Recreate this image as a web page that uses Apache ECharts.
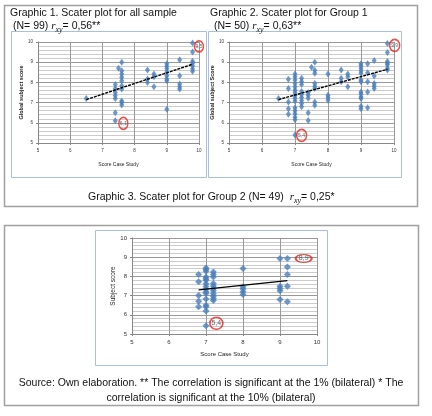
<!DOCTYPE html>
<html>
<head>
<meta charset="utf-8">
<script src="https://cdn.jsdelivr.net/npm/echarts@6/dist/echarts.min.js"></script>
<style>
html, body { margin: 0; padding: 0; background: #fff; }
#main { width: 432px; height: 416px; }
</style>
</head>
<body>
<div id="main"></div>
<script>
// axis ticks (same for both axes in all three plots)
var xTicks = [5, 6, 7, 8, 9, 10];
var yTicks = [5, 6, 7, 8, 9, 10];

// Graphic 1 - all sample
var g1X = [6.5,
    7.4, 7.4, 7.4, 7.4, 7.4, 7.4, 7.4,
    7.5,
    7.6, 7.6, 7.6, 7.6, 7.6, 7.6, 7.6, 7.6, 7.6, 7.6,
    8.4, 8.4, 8.4,
    8.6, 8.6, 8.6,
    9.0, 9.0, 9.0, 9.0, 9.0, 9.0, 9.0, 9.0,
    9.4, 9.4, 9.4, 9.4, 9.4,
    9.8, 9.8, 9.8, 9.8, 9.8, 9.8, 9.8];
var g1Y = [7.2,
    7.9, 7.7, 7.5, 7.35, 7.2, 6.5, 6.1,
    8.7,
    9.0, 8.58, 8.42, 8.25, 8.08, 7.83, 7.67, 7.08, 7.0, 6.88,
    8.62, 8.17, 8.0,
    8.42, 8.28, 7.78,
    8.92, 8.8, 8.67, 8.5, 8.33, 8.17, 8.08, 6.67,
    9.12, 8.33, 7.92, 7.78, 7.67,
    9.95, 9.5, 9.05, 8.95, 8.83, 8.67, 8.55];
var g1TrendX = [6.5, 9.8];
var g1TrendY = [7.15, 8.9];
var g1NoteText = ['9,5', '6,1'];
var g1NoteX = [10.0, 7.65];
var g1NoteY = [9.78, 5.97];

// Graphic 2 - group 1
var g2X = [6.5,
    6.8, 6.8, 6.8, 6.8, 6.8,
    7.0, 7.0, 7.0, 7.0, 7.0, 7.0, 7.0, 7.0, 7.0, 7.0, 7.0, 7.0, 7.0, 7.0, 7.0, 7.0,
    7.2, 7.2, 7.2, 7.2, 7.2, 7.2, 7.2, 7.2, 7.2,
    7.4, 7.4, 7.4, 7.4, 7.4,
    7.5,
    7.6, 7.6, 7.6, 7.6, 7.6, 7.6, 7.6, 7.6,
    8.0, 8.0, 8.0, 8.0,
    8.4, 8.4, 8.4,
    8.6, 8.6, 8.6,
    9.0, 9.0, 9.0, 9.0, 9.0, 9.0, 9.0, 9.0, 9.0, 9.0, 9.0, 9.0, 9.0,
    9.2, 9.2, 9.2, 9.2, 9.2,
    9.4, 9.4, 9.4, 9.4, 9.4,
    9.8, 9.8, 9.8, 9.8, 9.8, 9.8, 9.8];
var g2Y = [7.2,
    8.15, 7.7, 7.03, 6.7, 6.42,
    8.42, 8.28, 8.12, 7.95, 7.78, 7.62, 7.5, 7.35, 7.22, 7.08, 6.75, 6.6, 6.45, 6.28, 6.15, 5.4,
    8.2, 8.05, 7.9, 7.55, 7.4, 7.25, 7.1, 6.95, 6.8,
    7.5, 7.37, 7.22, 6.5, 6.12,
    8.75,
    9.0, 8.6, 8.45, 7.95, 7.8, 7.7, 7.03, 6.87,
    8.42, 7.37, 7.25, 7.12,
    8.62, 8.2, 8.03,
    8.42, 8.28, 7.78,
    8.92, 8.82, 8.7, 8.58, 8.45, 8.12, 8.03, 7.53, 7.42, 7.28, 7.2, 6.82, 6.7,
    8.92, 8.48, 8.03, 7.53, 6.75,
    9.08, 8.32, 7.95, 7.82, 7.7,
    9.92, 9.48, 9.03, 8.95, 8.87, 8.7, 8.62];
var g2TrendX = [6.5, 9.8];
var g2TrendY = [7.15, 8.65];
var g2NoteText = ['9,9', '5,4'];
var g2NoteX = [10.02, 7.2];
var g2NoteY = [9.83, 5.38];

// Graphic 3 - group 2
var g3X = [6.8, 6.8, 6.8, 6.8, 6.8,
    7.0, 7.0, 7.0, 7.0, 7.0, 7.0, 7.0, 7.0, 7.0, 7.0, 7.0, 7.0, 7.0, 7.0, 7.0, 7.0,
    7.2, 7.2, 7.2, 7.2, 7.2, 7.2, 7.2, 7.2, 7.2, 7.2, 7.2,
    8.0, 8.0, 8.0, 8.0, 8.0,
    9.0, 9.0, 9.0, 9.0, 9.0,
    9.2, 9.2, 9.2, 9.2, 9.2];
var g3Y = [8.1, 7.72, 7.0, 6.71, 6.42,
    8.44, 8.36, 8.27, 7.97, 7.88, 7.8, 7.62, 7.48, 7.33, 7.2, 7.11, 6.82, 6.5, 6.42, 6.2, 5.43,
    8.23, 8.1, 7.97, 7.63, 7.5, 7.37, 7.25, 7.1, 6.97, 6.85, 6.75,
    8.41, 7.46, 7.34, 7.2, 7.06,
    8.93, 7.49, 7.37, 7.25, 6.8,
    8.93, 8.49, 8.1, 7.49, 6.68];
var g3TrendX = [6.8, 9.2];
var g3TrendY = [7.3, 7.78];
var g3NoteText = ['8,9', '5,4'];
var g3NoteX = [9.64, 7.28];
var g3NoteY = [8.93, 5.56];

function pairs(xs, ys) {
    return xs.map(function(x, i) { return [x, ys[i]]; });
}

var blue = '#4A7EBB';
var font = 'Liberation Sans';

function xAxisFor(g, small) {
    return {
        type: 'value', gridIndex: g,
        min: xTicks[0], max: xTicks[xTicks.length - 1], interval: 1,
        name: 'Score Case Study', nameLocation: 'middle',
        nameGap: small ? 19 : 17,
        nameTextStyle: { fontSize: small ? 5 : 6, color: '#222', fontFamily: font },
        axisLine: { show: true, lineStyle: { color: '#888', width: 1 } },
        axisTick: { show: true, length: 2, lineStyle: { color: '#888' } },
        axisLabel: { fontSize: small ? 4.5 : 6, color: '#333', margin: 5, fontFamily: font },
        splitLine: { show: true, lineStyle: { color: '#999', width: 1 } }
    };
}

function yAxisFor(g, small, name) {
    return {
        type: 'value', gridIndex: g,
        min: yTicks[0], max: yTicks[yTicks.length - 1], interval: 1,
        name: name, nameLocation: 'middle',
        nameGap: small ? 11 : 15,
        nameTextStyle: { fontSize: small ? 5.5 : 6.5, color: '#222', fontFamily: font,
            fontWeight: small ? 'bold' : 'normal' },
        axisLine: { show: true, lineStyle: { color: '#888', width: 1 } },
        axisTick: { show: true, length: 2, lineStyle: { color: '#888' } },
        minorTick: { show: false, splitNumber: 5 },
        axisLabel: { fontSize: small ? 4.5 : 6, color: '#333', margin: 5, fontFamily: font },
        splitLine: { show: true, lineStyle: { color: '#999', width: 1 } },
        minorSplitLine: { show: true, lineStyle: { color: '#cccccc', width: 1 } }
    };
}

function dots(g, xs, ys, size) {
    return {
        type: 'scatter', xAxisIndex: g, yAxisIndex: g,
        symbol: 'diamond', symbolSize: size,
        itemStyle: { color: blue },
        data: pairs(xs, ys), z: 3
    };
}

function trend(g, xs, ys, dashed) {
    return {
        type: 'line', xAxisIndex: g, yAxisIndex: g,
        symbol: 'none', silent: true,
        lineStyle: { color: '#000', width: dashed ? 1.4 : 1.2, type: dashed ? [3, 1] : 'solid' },
        data: pairs(xs, ys), z: 4
    };
}

function notes(g, texts, xs, ys, sizes, fs) {
    return {
        type: 'scatter', xAxisIndex: g, yAxisIndex: g, clip: false,
        symbol: 'circle',
        itemStyle: { color: 'rgba(255,255,255,0)', borderColor: '#e5231b', borderWidth: 1.6 },
        label: { show: true, position: 'inside', formatter: '{b}', fontSize: fs,
            color: '#444', fontFamily: font },
        data: texts.map(function(t, i) {
            return { name: t, value: [xs[i], ys[i]], symbolSize: sizes[i] };
        }),
        z: 5
    };
}

var rxy = {
    r: { fontStyle: 'italic', fontFamily: 'Liberation Serif', fontSize: 11 },
    s: { fontStyle: 'italic', fontFamily: 'Liberation Serif', fontSize: 8, padding: [7, 0, 0, 0] }
};

function text(x, y, str, align) {
    return {
        type: 'text', x: x, y: y, z: 10,
        style: {
            text: str, rich: rxy, fill: '#111',
            font: '10.5px "Liberation Sans"', align: align || 'left', verticalAlign: 'middle'
        }
    };
}

function box(x, y, w, h, color, lw) {
    return {
        type: 'rect', shape: { x: x, y: y, width: w, height: h }, z: -1,
        style: { fill: 'none', stroke: color, lineWidth: lw }
    };
}

var chart = echarts.init(document.getElementById('main'));

var option = {
    backgroundColor: '#fff',
    animation: false,
    grid: [
        { left: 38, top: 42, width: 161, height: 101 },
        { left: 229, top: 42, width: 165, height: 101 },
        { left: 132, top: 238, width: 185, height: 96 }
    ],
    xAxis: [xAxisFor(0, true), xAxisFor(1, true), xAxisFor(2, false)],
    yAxis: [
        yAxisFor(0, true, 'Global subject score'),
        yAxisFor(1, true, 'Global subject Score'),
        yAxisFor(2, false, 'Subject score')
    ],
    graphic: [
        box(4.5, 5.5, 413, 201, '#a0a0a0', 1.5),
        box(11.5, 31.5, 195, 146, '#a9c0dc', 1),
        box(208.5, 31.5, 193, 146, '#a9c0dc', 1),
        box(4.5, 225.5, 414, 180, '#a0a0a0', 1.5),
        box(95.5, 230.5, 232, 135, '#a9c0dc', 1),
        text(10, 13, 'Graphic 1. Scater plot for all sample'),
        text(13, 26, '(N= 99) {r|r}{s|xy}= 0,56**'),
        text(210, 13, 'Graphic 2. Scater plot for Group 1'),
        text(214, 26, '(N= 50) {r|r}{s|xy}= 0,63**'),
        text(88, 197, 'Graphic 3. Scater plot for Group 2 (N= 49)  {r|r}{s|xy}= 0,25*'),
        text(211, 383, 'Source: Own elaboration. ** The correlation is significant at the 1% (bilateral) * The', 'center'),
        text(211, 398, 'correlation is significant at the 10% (bilateral)', 'center')
    ],
    series: [
        dots(0, g1X, g1Y, [5, 7]),
        trend(0, g1TrendX, g1TrendY, true),
        notes(0, g1NoteText, g1NoteX, g1NoteY, [[9, 11], [9, 12]], 5),
        dots(1, g2X, g2Y, [5, 7]),
        trend(1, g2TrendX, g2TrendY, true),
        notes(1, g2NoteText, g2NoteX, g2NoteY, [[10, 12], [10, 12]], 5),
        dots(2, g3X, g3Y, [7, 7]),
        trend(2, g3TrendX, g3TrendY, false),
        notes(2, g3NoteText, g3NoteX, g3NoteY, [[16, 8], [13, 12]], 7)
    ]
};

chart.setOption(option);
</script>
</body>
</html>
